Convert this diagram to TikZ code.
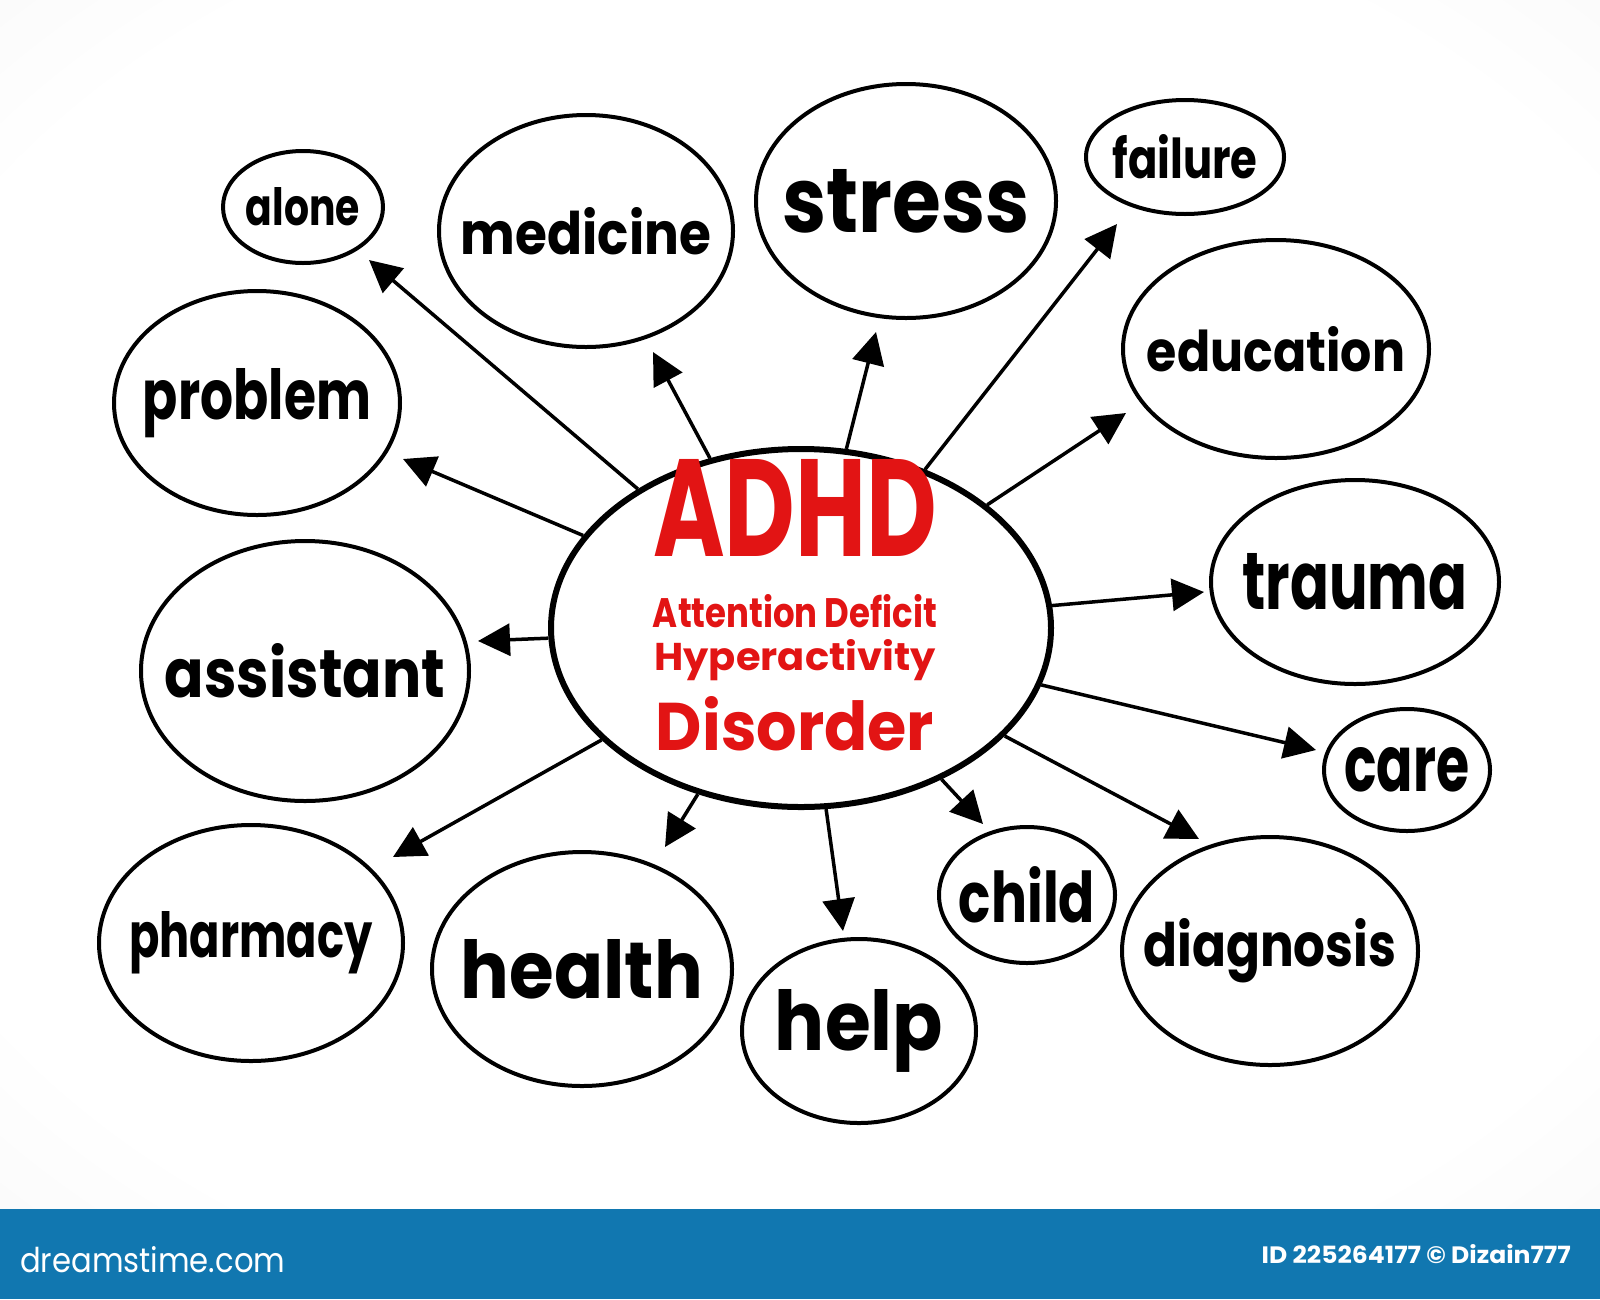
\documentclass[tikz,border=0pt]{standalone}
\usepackage{fontspec}
\setmainfont{Poppins}
\usetikzlibrary{shapes.geometric,arrows.meta}
\definecolor{adhdred}{RGB}{226,20,20}
\definecolor{barblue}{RGB}{17,119,176}
\newcommand\fitbox[3]{\resizebox{#1pt}{#2pt}{#3}}
\pgfdeclareradialshading{bgsh}{\pgfpoint{0bp}{0bp}}{color(0bp)=(white); color(30bp)=(white); color(50bp)=(black!6); color(72bp)=(black!11)}
\begin{document}
\begin{tikzpicture}[x=1pt,y=-1pt,
  bub/.style={draw=black, line width=4pt, ellipse, inner sep=0pt},
  lbl/.style={inner sep=0pt, font=\bfseries},
  hub/.style={draw=black, line width=6pt, ellipse, inner sep=0pt},
  ttl/.style={anchor=north, inner sep=0pt, text=adhdred, font=\bfseries},
  arr/.style={line width=3.5pt, -{Triangle[length=32pt,width=32pt]}},
  bartxt/.style={text=white, inner sep=0pt}
]
\useasboundingbox (0,0) rectangle (1600,1299);
\shade[shading=bgsh] (0,0) rectangle (1600,1209);
\fill[barblue] (0,1209) rectangle (1600,1299);

% hub
\node[hub, minimum width=500pt, minimum height=358pt] (c) at (801,628) {};
\node[ttl] (tA) at (795,459) {\fitbox{284}{97}{ADHD}};
\node[ttl] (tB) at (795,594) {\fitbox{284}{33}{Attention Deficit}};
\node[ttl] (tC) at (795,639) {\fitbox{281}{31}{Hyperactivity}};
\node[ttl] (tD) at (795,696) {\fitbox{278}{54}{Disorder}};

% bubbles
\node[bub, minimum width=160pt, minimum height=112pt] (alone) at (303,207) {};
\node[bub, minimum width=294pt, minimum height=232pt] (medicine) at (586,231) {};
\node[bub, minimum width=300pt, minimum height=234pt] (stress) at (906,201) {};
\node[bub, minimum width=198pt, minimum height=114pt] (failure) at (1185,157) {};
\node[bub, minimum width=306pt, minimum height=218pt] (education) at (1276,349) {};
\node[bub, minimum width=286pt, minimum height=224pt] (problem) at (257,403) {};
\node[bub, minimum width=288pt, minimum height=204pt] (trauma) at (1355,582) {};
\node[bub, minimum width=328pt, minimum height=260pt] (assistant) at (305,671) {};
\node[bub, minimum width=166pt, minimum height=122pt] (care) at (1407,770) {};
\node[bub, minimum width=304pt, minimum height=236pt] (pharmacy) at (251,943) {};
\node[bub, minimum width=300pt, minimum height=234pt] (health) at (582,969) {};
\node[bub, minimum width=234pt, minimum height=184pt] (help) at (859,1031) {};
\node[bub, minimum width=176pt, minimum height=136pt] (child) at (1027,895) {};
\node[bub, minimum width=296pt, minimum height=228pt] (diagnosis) at (1270,951) {};

% labels
\node[lbl] (alone-l) at (alone) {\fitbox{114}{38}{alone}};
\node[lbl] (medicine-l) at (medicine) {\fitbox{250}{47}{medicine}};
\node[lbl] (stress-l) at (stress) {\fitbox{247}{63}{stress}};
\node[lbl] (failure-l) at (failure) {\fitbox{145}{44}{failure}};
\node[lbl] (education-l) at (education) {\fitbox{258}{45}{education}};
\node[lbl] (problem-l) at (problem) {\fitbox{228}{51}{problem}};
\node[lbl] (trauma-l) at (trauma) {\fitbox{225}{56}{trauma}};
\node[lbl] (assistant-l) at (assistant) {\fitbox{280}{54}{assistant}};
\node[lbl] (care-l) at (care) {\fitbox{125}{44}{care}};
\node[lbl] (pharmacy-l) at (pharmacy) {\fitbox{243}{46}{pharmacy}};
\node[lbl] (health-l) at (health) {\fitbox{242}{59}{health}};
\node[lbl] (help-l) at (help) {\fitbox{168}{61}{help}};
\node[lbl] (child-l) at (child) {\fitbox{136}{56}{child}};
\node[lbl] (diagnosis-l) at (diagnosis) {\fitbox{253}{48}{diagnosis}};

% arrow tips
\coordinate (pAlone) at (369,260);
\coordinate (pMedicine) at (653,352);
\coordinate (pStress) at (876,332);
\coordinate (pFailure) at (1117,224);
\coordinate (pEducation) at (1126,413);
\coordinate (pProblem) at (403,459);
\coordinate (pTrauma) at (1204,592);
\coordinate (pAssistant) at (478,641);
\coordinate (pCare) at (1316,750);
\coordinate (pDiagnosis) at (1199,839);
\coordinate (pPharmacy) at (393,857);
\coordinate (pHealth) at (665,847);
\coordinate (pHelp) at (843,931);
\coordinate (pChild) at (983,824);

\foreach \t in {Alone,Medicine,Stress,Failure,Education,Problem,Trauma,Assistant,Care,Diagnosis,Pharmacy,Health,Help,Child}
  \draw[arr] (c) -- (p\t);

% footer
\node[bartxt, anchor=west] (brand) at (20,1260) {\fitbox{265}{26}{dreamstime.com}};
\node[bartxt, anchor=east, font=\bfseries] (credit) at (1571,1254) {\fitbox{309}{19}{ID 225264177 © Dizain777}};
\end{tikzpicture}
\end{document}
